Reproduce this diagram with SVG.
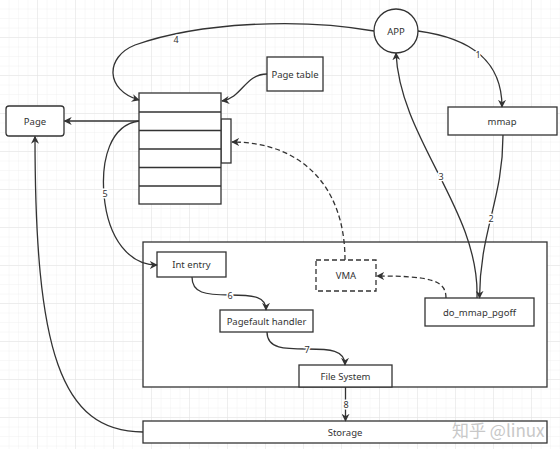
<svg xmlns="http://www.w3.org/2000/svg" width="560" height="449" viewBox="0 0 560 449">
<defs>
<pattern id="minor" width="9.5" height="9.5" patternUnits="userSpaceOnUse">
<path d="M9.5 0V9.5H0" fill="none" stroke="#f1f1f1" stroke-width="1"/>
</pattern>
<pattern id="major" width="38" height="38" patternUnits="userSpaceOnUse">
<rect width="38" height="38" fill="url(#minor)"/>
<path d="M38 0V38H0" fill="none" stroke="#e3e3e3" stroke-width="1"/>
</pattern>
<marker id="arr" viewBox="0 0 10 10" refX="9" refY="5" markerWidth="8" markerHeight="8" markerUnits="userSpaceOnUse" orient="auto">
<path d="M0,0 L10,5 L0,10 L3,5 Z" fill="#333"/>
</marker>
</defs>
<style>
.n{fill:#fff;stroke:#333;stroke-width:1.3}
.d{fill:#fff;stroke:#333;stroke-width:1.3;stroke-dasharray:5 3}
.t{font-family:"Noto Sans","Open Sans",sans-serif;font-size:9.5px;fill:#333;text-anchor:middle;dominant-baseline:central}
.c{fill:none;stroke:#333;stroke-width:1.3}
.cd{fill:none;stroke:#333;stroke-width:1.3;stroke-dasharray:5 3}
.l{font-family:"Noto Sans","Open Sans",sans-serif;font-size:9px;fill:#333;text-anchor:middle;dominant-baseline:central;stroke:#fff;stroke-width:3;paint-order:stroke}
</style>
<rect width="560" height="449" fill="#fff"/>
<rect width="560" height="449" fill="url(#major)"/>

<g id="container"><rect class="n" x="143" y="242" width="404" height="145"/></g>
<g id="storage"><rect class="n" x="143" y="421" width="404" height="22"/><text class="t" x="345" y="432">Storage</text></g>
<g id="app"><circle class="n" cx="396" cy="31" r="22"/><text class="t" x="396" y="31">APP</text></g>
<g id="pagetable"><rect class="n" x="267" y="57" width="56" height="34"/><text class="t" x="295" y="74">Page table</text></g>
<g id="mmap"><rect class="n" x="448" y="107" width="109" height="28"/><text class="t" x="502" y="121">mmap</text></g>
<g id="page"><rect class="n" x="6" y="106" width="58" height="30" rx="3"/><text class="t" x="35" y="121">Page</text></g>
<g id="stack">
<rect class="n" x="221" y="119" width="10" height="44"/>
<rect class="n" x="139" y="93" width="82" height="111"/>
<path class="c" d="M139,112H221M139,130.5H221M139,149H221M139,167.5H221M139,186H221"/>
</g>
<g id="intentry"><rect class="n" x="157" y="252" width="69" height="25"/><text class="t" x="191.5" y="264.5">Int entry</text></g>
<g id="vma"><rect class="d" x="316" y="260" width="60" height="31"/><text class="t" x="346" y="275.5">VMA</text></g>
<g id="domap"><rect class="n" x="425" y="298" width="109" height="28"/><text class="t" x="479.5" y="312">do_mmap_pgoff</text></g>
<g id="pagefault"><rect class="n" x="220" y="310" width="93" height="22"/><text class="t" x="266.5" y="321">Pagefault handler</text></g>
<g id="filesystem"><rect class="n" x="299" y="365" width="93" height="22"/><text class="t" x="345.5" y="376">File System</text></g>

<g id="connectors">
<path class="c" marker-end="url(#arr)" d="M418,31 C470,38 502,60 502,107"/>
<path class="c" marker-end="url(#arr)" d="M503,135 C503,200 480,230 479.5,298"/>
<path class="c" marker-end="url(#arr)" d="M477,298 C480,210 400,140 396,53"/>
<path class="c" marker-end="url(#arr)" d="M374,31 C300,18 200,22 135,45 C105,57 105,90 139,100"/>
<path class="c" marker-end="url(#arr)" d="M267,74 C245,74 242,98 222,101"/>
<path class="cd" marker-end="url(#arr)" d="M345,260 C345,185 300,142 232,142"/>
<path class="cd" marker-end="url(#arr)" d="M446,298 C446,280 430,276 377,276"/>
<path class="c" marker-end="url(#arr)" d="M139,121 H64.5"/>
<path class="c" marker-end="url(#arr)" d="M139,121 C110,125 101,160 104,195 C108,240 130,265 157,265"/>
<path class="c" marker-end="url(#arr)" d="M143,432 C60,432 35,350 35,136.5"/>
<path class="c" marker-end="url(#arr)" d="M192,277 C192,293 205,295 230,295 C255,295 266,297 266,310"/>
<path class="c" marker-end="url(#arr)" d="M267,332 C267,349 285,349 307,349 C330,349 345,350 345,365"/>
<path class="c" marker-end="url(#arr)" d="M345.5,387 V421"/>
<text class="l" x="478" y="54">1</text>
<text class="l" x="491" y="218">2</text>
<text class="l" x="441" y="176">3</text>
<text class="l" x="176" y="39">4</text>
<text class="l" x="105" y="193">5</text>
<text class="l" x="230" y="295">6</text>
<text class="l" x="307" y="349">7</text>
<text class="l" x="346" y="404">8</text>
</g>
<text x="452" y="437" font-family="'Noto Sans CJK SC','Noto Sans',sans-serif" font-size="17" fill="#c8c8c8">知乎 @linux</text>
</svg>
